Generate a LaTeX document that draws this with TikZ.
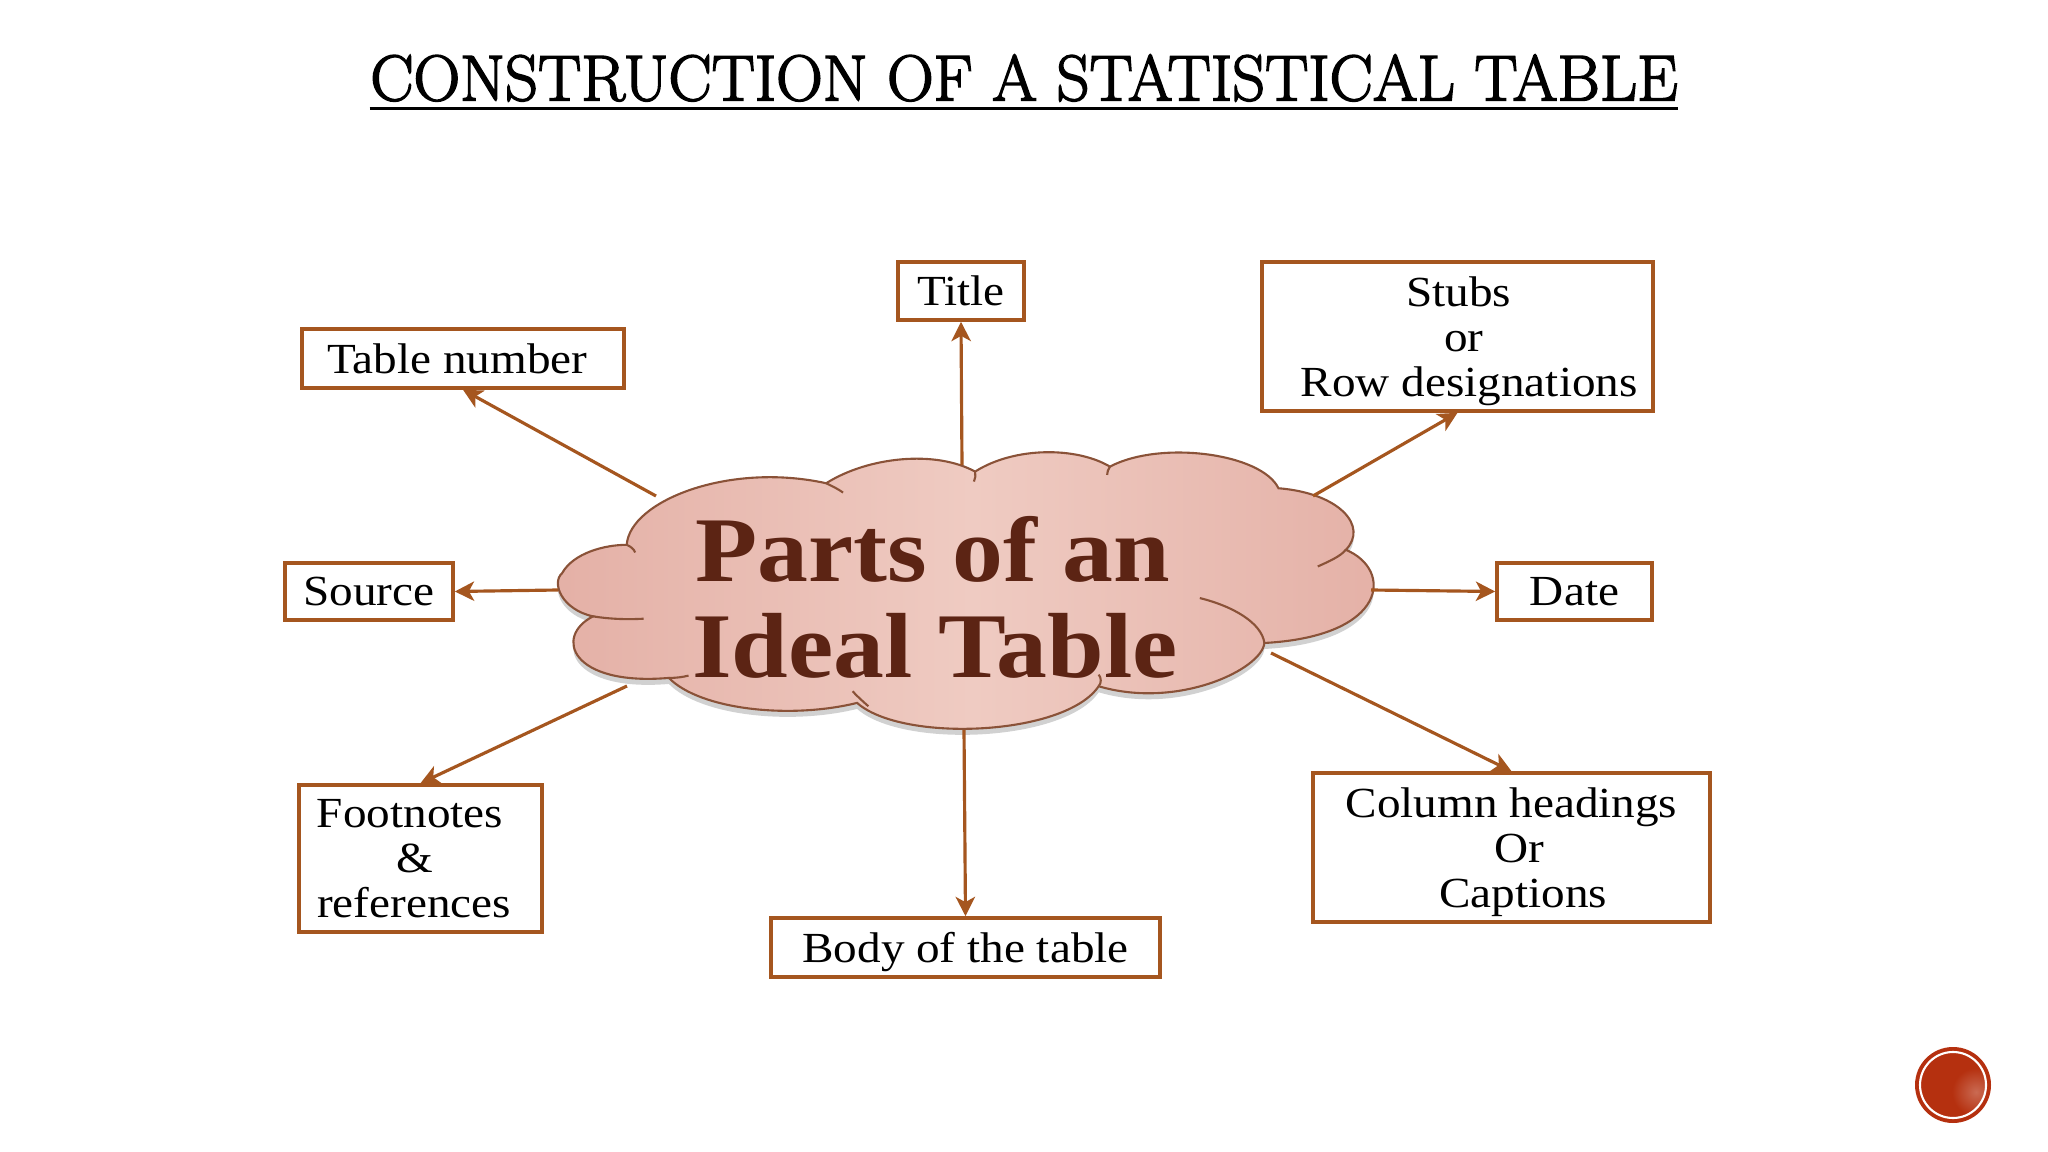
\documentclass[tikz,border=0pt]{standalone}
\usepackage{fontspec}
\setmainfont[FakeStretch=1.1]{Liberation Serif}
\newfontfamily\titlefont[FakeBold=2.5]{Latin Modern Roman}
\usepackage{color}
\usepackage{tikz}
\usetikzlibrary{arrows.meta}

\definecolor{boxbrown}{HTML}{A5561F}
\definecolor{cloudedge}{HTML}{8A5238}
\definecolor{cloudpink}{HTML}{E4B0A6}
\definecolor{cloudlight}{HTML}{EFCBC2}
\definecolor{cloudtext}{HTML}{5C2414}
\definecolor{pagered}{HTML}{B5300F}

\tikzset{
	partbox/.style={draw=boxbrown, line width=1pt, fill=white, align=center, inner sep=0pt, text=black, font=\fontsize{12.2}{12.8}\selectfont},
	partarrow/.style={draw=boxbrown, line width=0.9pt, -{Stealth[length=5.5pt,width=5.5pt,inset=1.5pt]}},
	cloudtail/.style={draw=cloudedge, line width=0.6pt},
	cloudlabel/.style={font=\bfseries\fontsize{26.3}{30}\selectfont, text=cloudtext, inner sep=0pt},
}

\def\cloudoutline{(190,345) .. controls (195,215) and (370,95) .. (545,160)
	.. controls (620,80) and (740,60) .. (810,125)
	.. controls (880,50) and (990,50) .. (1050,110)
	.. controls (1140,30) and (1320,70) .. (1350,175)
	.. controls (1460,190) and (1510,290) .. (1470,360)
	.. controls (1555,420) and (1545,620) .. (1325,640)
	.. controls (1320,720) and (1170,840) .. (1030,770)
	.. controls (970,920) and (680,940) .. (600,820)
	.. controls (480,870) and (320,840) .. (265,745)
	.. controls (90,770) and (60,620) .. (130,560)
	.. controls (75,540) and (55,460) .. (75,430)
	.. controls (95,370) and (150,345) .. (190,345) -- cycle}

\begin{document}
\begin{tikzpicture}[x=0.01cm, y=-0.01cm]
	
	\useasboundingbox (0,0) rectangle (2048,1152);
	
	\node[font=\titlefont\fontsize{18.4}{20}\selectfont, inner sep=0pt] (title) at (1024,78) {CONSTRUCTION OF A STATISTICAL TABLE};
	\draw[line width=0.9pt] ([yshift=-2.2pt]title.base west) -- ([yshift=-2.2pt]title.base east);
	
	\node[partbox, minimum width=1.26cm, minimum height=0.58cm] (titlebox) at (961,291) {Title};
	\node[partbox, minimum width=3.22cm, minimum height=0.59cm] (tablenumber) at (463,358.5) {Table number\hspace*{3.3pt}};
	\node[partbox, minimum width=3.91cm, minimum height=1.49cm] (stubs) at (1457.5,336.5) {\rule{0pt}{11pt}\hspace*{0.7pt}Stubs\\\hspace*{3.7pt}or\\\hspace*{6.7pt}Row designations};
	\node[partbox, minimum width=1.68cm, minimum height=0.57cm] (source) at (369,591.5) {Source};
	\node[partbox, minimum width=1.55cm, minimum height=0.57cm] (date) at (1574.5,591.5) {Date};
	\node[partbox, minimum width=2.43cm, minimum height=1.47cm] (footnotes) at (420.5,858.5) {Footnotes\hspace*{6pt}\\\hspace*{-3.2pt}\&\\references\hspace*{3.7pt}};
	\node[partbox, minimum width=3.89cm, minimum height=0.59cm] (body) at (965.5,947.5) {\rule{0pt}{11pt}Body of the table};
	\node[partbox, minimum width=3.97cm, minimum height=1.49cm] (column) at (1511.5,847.5) {\rule{0pt}{11pt}Column headings\\\hspace*{4.5pt}Or\\\hspace*{6.7pt}Captions};
	
	% cloud, read off the crop (stretched in x)
	\begin{scope}[shift={(520,430)}, x=0.005612cm, y=-0.003333cm]
		\path[fill=black!18, yshift=-0.06cm] \cloudoutline;
		\path[draw=cloudedge, line width=0.6pt, left color=cloudpink, right color=cloudpink, middle color=cloudlight] \cloudoutline;
		% inner tails of the lobes
		\draw[cloudtail] (190,345) .. controls (197,350) and (203,358) .. (205,368);
		\draw[cloudtail] (545,160) .. controls (555,168) and (567,178) .. (575,188);
		\draw[cloudtail] (810,125) .. controls (812,135) and (810,145) .. (808,155);
		\draw[cloudtail] (1050,110) .. controls (1047,118) and (1045,126) .. (1045,135);
		\draw[cloudtail] (1470,360) .. controls (1460,380) and (1440,395) .. (1420,410);
		\draw[cloudtail] (1325,640) .. controls (1320,580) and (1270,530) .. (1210,505);
		\draw[cloudtail] (1030,770) .. controls (1035,760) and (1035,745) .. (1030,735);
		\draw[cloudtail] (620,830) .. controls (610,815) and (600,800) .. (592,785);
		\draw[cloudtail] (265,745) .. controls (280,745) and (290,742) .. (300,738);
		\draw[cloudtail] (130,560) .. controls (160,568) and (190,570) .. (220,567);
	\end{scope}
	
	\node[cloudlabel] (partsline) at (933,549) {Parts of an};
	\node[cloudlabel] (idealline) at (935,646) {Ideal Table};
	
	\coordinate (cloudtop) at (962,465);
	\coordinate (cloudnw) at (656,496);
	\coordinate (cloudne) at (1313,496);
	\coordinate (cloudw) at (558,590);
	\coordinate (cloude) at (1371,590);
	\coordinate (cloudsw) at (627,686);
	\coordinate (cloudbottom) at (964,730);
	\coordinate (cloudse) at (1271,653);
	
	\draw[partarrow] (cloudtop) -- (titlebox.south);
	\draw[partarrow] (cloudnw) -- (tablenumber.south);
	\draw[partarrow] (cloudne) -- (stubs.south);
	\draw[partarrow] (cloudw) -- (source.east);
	\draw[partarrow] (cloude) -- (date.west);
	\draw[partarrow] (cloudsw) -- (footnotes.north);
	\draw[partarrow] (cloudbottom) -- (body.north);
	\draw[partarrow] (cloudse) -- (column.north);
	
	\fill[pagered] (1953,1085) circle (38);
	\begin{scope}
		\clip (1953,1085) circle (32);
		\shade[inner color=pagered!72!white, outer color=pagered] (1976,1092) circle (24);
	\end{scope}
	\draw[white, line width=0.6pt] (1953,1085) circle (33);
	
\end{tikzpicture}
\end{document}
